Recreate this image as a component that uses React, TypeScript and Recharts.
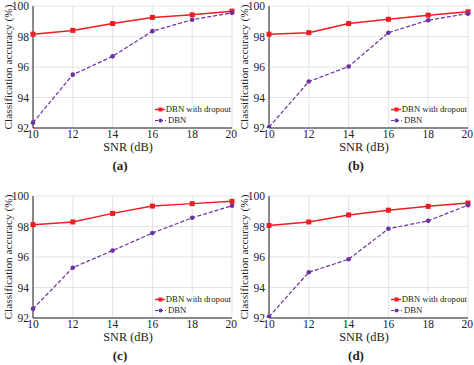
import React from 'react';
import { LineChart, Line, XAxis, YAxis, CartesianGrid } from 'recharts';

const snr = [10, 12, 14, 16, 18, 20];
const yTicks = [92, 94, 96, 98, 100];

const dropoutA = [98.15, 98.4, 98.85, 99.25, 99.42, 99.66];
const dbnA = [92.35, 95.5, 96.7, 98.35, 99.1, 99.55];
const dropoutB = [98.15, 98.25, 98.85, 99.13, 99.4, 99.62];
const dbnB = [92.05, 95.05, 96.03, 98.25, 99.07, 99.5];
const dropoutC = [98.12, 98.3, 98.86, 99.34, 99.5, 99.65];
const dbnC = [92.6, 95.3, 96.42, 97.57, 98.57, 99.36];
const dropoutD = [98.07, 98.3, 98.76, 99.07, 99.32, 99.54];
const dbnD = [92.08, 95.0, 95.85, 97.85, 98.37, 99.4];

const RED = '#ee1c24';
const PURPLE = '#6b31a3';
const FONT = '"Liberation Serif", "Times New Roman", "DejaVu Serif", serif';

const Square = (props: any) => {
  const { cx, cy, index } = props;
  if (cx == null || cy == null) return <g key={index} />;
  return <rect key={index} x={cx - 2.5} y={cy - 2.5} width={5} height={5} fill={RED} />;
};

const Dot = (props: any) => {
  const { cx, cy, index } = props;
  if (cx == null || cy == null) return <g key={index} />;
  return <circle key={index} cx={cx} cy={cy} r={2.3} fill={PURPLE} />;
};

type PanelProps = {
  dropout: number[];
  dbn: number[];
  caption: string;
  left: number;
  top: number;
};

const Panel: React.FC<PanelProps> = ({ dropout, dbn, caption, left, top }) => {
  const data = snr.map((s, i) => ({ snr: s, dropout: dropout[i], dbn: dbn[i] }));

  return (
    <div style={{ position: 'absolute', left, top, width: 237, height: 175, fontFamily: FONT }}>
      <LineChart width={237} height={175} data={data} margin={{ top: 6, right: 5, bottom: 27, left: 8 }}>
        <CartesianGrid stroke="#dcdcdc" strokeWidth={0.8} />
        <XAxis
          dataKey="snr"
          type="number"
          domain={[10, 20]}
          ticks={snr}
          tickLine={false}
          tickSize={0}
          tickMargin={2}
          height={20}
          axisLine={{ stroke: '#222' }}
          tick={{ fontSize: 11.5, fill: '#222', fontFamily: FONT }}
        />
        <XAxis xAxisId="top" orientation="top" dataKey="snr" type="number" domain={[10, 20]} height={0} tick={false} tickLine={false} axisLine={{ stroke: '#555' }} />
        <YAxis
          domain={[92, 100]}
          ticks={yTicks}
          tickLine={false}
          tickSize={0}
          tickMargin={4}
          width={25}
          allowDataOverflow
          axisLine={{ stroke: '#222' }}
          tick={{ fontSize: 11.5, fill: '#222', fontFamily: FONT }}
        />
        <YAxis yAxisId="right" orientation="right" domain={[92, 100]} width={0} tick={false} tickLine={false} axisLine={{ stroke: '#555' }} />
        <Line
          dataKey="dropout"
          stroke={RED}
          strokeWidth={1.5}
          dot={Square}
          isAnimationActive={false}
        />
        <Line
          dataKey="dbn"
          stroke={PURPLE}
          strokeWidth={1.2}
          strokeDasharray="4 2"
          dot={Dot}
          isAnimationActive={false}
        />
      </LineChart>

      {/* y axis title */}
      <div
        style={{
          position: 'absolute', left: 8, top: 67, fontSize: 11.3, lineHeight: '12px', color: '#222',
          transform: 'translate(-50%, -50%) rotate(-90deg)', whiteSpace: 'nowrap',
        }}
      >
        Classification accuracy (%)
      </div>

      {/* legend */}
      <div
        style={{
          position: 'absolute', left: 154, top: 104, width: 77, height: 23,
          background: '#fff', fontSize: 8.7, color: '#222', lineHeight: '11px', whiteSpace: 'nowrap',
        }}
      >
        <div style={{ display: 'flex', alignItems: 'center', height: 11 }}>
          <svg width={13} height={11}>
            <line x1={1} y1={5.5} x2={12} y2={5.5} stroke={RED} strokeWidth={1.5} />
            <rect x={4.5} y={3.5} width={4} height={4} fill={RED} />
          </svg>
          <span style={{ marginLeft: 1 }}>DBN with dropout</span>
        </div>
        <div style={{ display: 'flex', alignItems: 'center', height: 11 }}>
          <svg width={13} height={11}>
            <line x1={1} y1={5.5} x2={12} y2={5.5} stroke={PURPLE} strokeWidth={1.2} strokeDasharray="3 2" />
            <circle cx={6.5} cy={5.5} r={2} fill={PURPLE} />
          </svg>
          <span style={{ marginLeft: 1 }}>DBN</span>
        </div>
      </div>

      {/* x axis title */}
      <div style={{ position: 'absolute', left: 0, width: 256, top: 141, lineHeight: '12px', textAlign: 'center', fontSize: 12.3, color: '#222' }}>
        SNR (dB)
      </div>

      {/* caption */}
      <div style={{ position: 'absolute', left: 0, width: 240, top: 159, lineHeight: '14px', textAlign: 'center', fontSize: 13, fontWeight: 'bold', color: '#222' }}>
        {caption}
      </div>
    </div>
  );
};

const App: React.FC = () => (
  <div style={{ position: 'absolute', left: 0, top: 0, width: 474, height: 365, background: '#fff' }}>
    <Panel dropout={dropoutA} dbn={dbnA} caption="(a)" left={0} top={0} />
    <Panel dropout={dropoutB} dbn={dbnB} caption="(b)" left={236} top={0} />
    <Panel dropout={dropoutC} dbn={dbnC} caption="(c)" left={0} top={190} />
    <Panel dropout={dropoutD} dbn={dbnD} caption="(d)" left={236} top={190} />
  </div>
);

export default App;
